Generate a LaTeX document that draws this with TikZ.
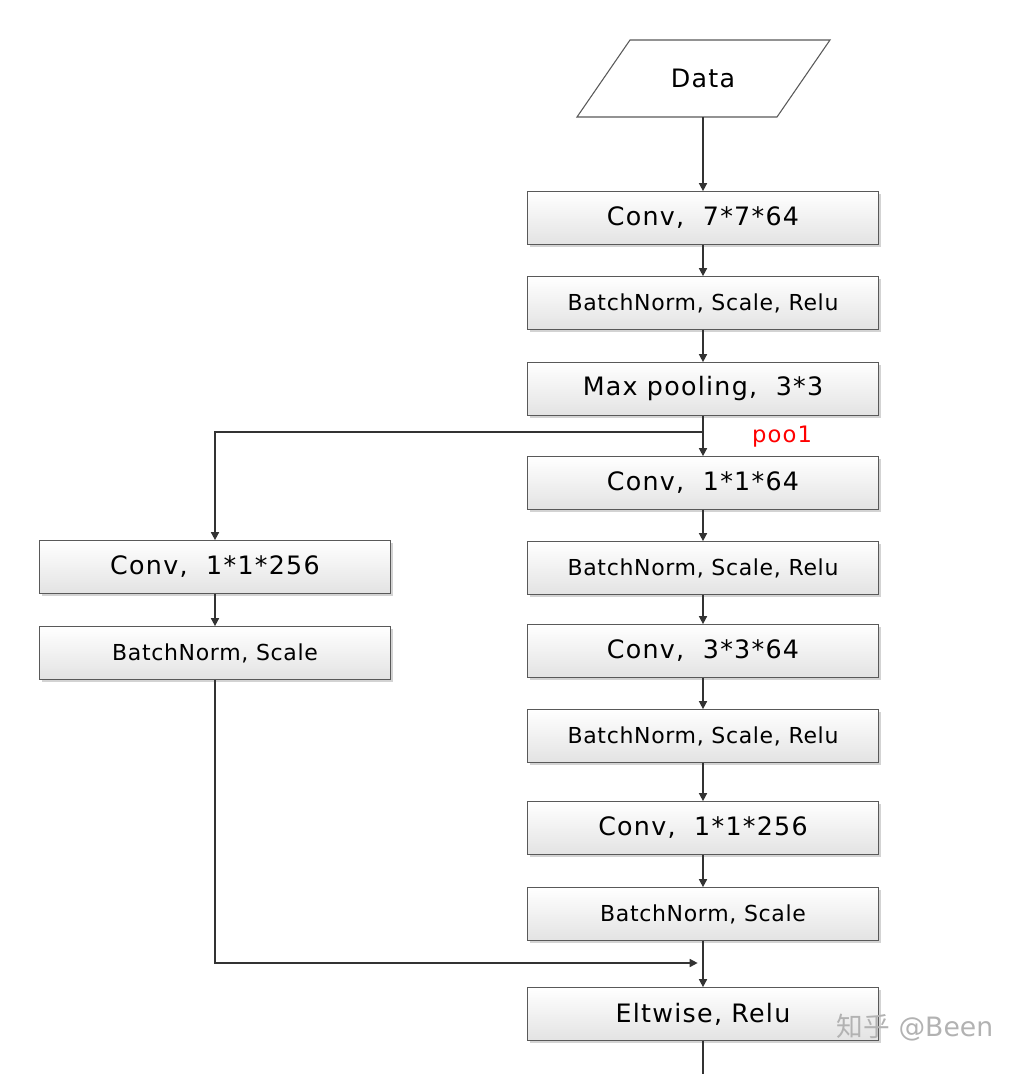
\documentclass[tikz,border=0pt]{standalone}
\usepackage{fontspec}
\setmainfont{DejaVu Sans}
\newfontfamily\cjk{Noto Sans CJK SC}
\usetikzlibrary{shapes.geometric,shadows,arrows.meta}
\begin{document}
\begin{tikzpicture}[x=0.75pt,y=-0.75pt,
  box/.style={draw=gray!70!black,line width=0.8pt,minimum width=263pt,minimum height=39.5pt,
    top color=white,bottom color=gray!22,drop shadow={shadow xshift=2pt,shadow yshift=-2pt,opacity=0.35},
    inner sep=0pt,font=\fontsize{19}{21}\selectfont\addfontfeatures{LetterSpace=5}},
  small/.style={font=\fontsize{16.5}{18}\selectfont\addfontfeatures{LetterSpace=3}},
  ln/.style={draw=gray!40!black,line width=1.2pt},
  arr/.style={ln,-{Triangle[length=6pt,width=6pt]}}]
\useasboundingbox (0,0) rectangle (1032,1074);
\draw[draw=gray!70!black,line width=0.8pt,fill=white] (630,40) -- (830,40) -- (777,117) -- (577,117) -- cycle;
\node[minimum height=57.75pt,inner sep=0pt,font=\fontsize{19}{21}\selectfont\addfontfeatures{LetterSpace=5}] (data) at (703,78.5) {Data};
\node[box] (c1) at (703,218) {Conv,\ \ 7*7*64};
\node[box,small] (b1) at (703,303) {BatchNorm, Scale, Relu};
\node[box] (mp) at (703,389) {Max pooling,\ \ 3*3};
\node[box] (c2) at (703,483) {Conv,\ \ 1*1*64};
\node[box,small] (b2) at (703,568) {BatchNorm, Scale, Relu};
\node[box] (c3) at (703,651) {Conv,\ \ 3*3*64};
\node[box,small] (b3) at (703,736) {BatchNorm, Scale, Relu};
\node[box] (c4) at (703,828) {Conv,\ \ 1*1*256};
\node[box,small] (b4) at (703,914) {BatchNorm, Scale};
\node[box] (el) at (703,1014) {Eltwise, Relu};
\node[box] (lc) at (215,567) {Conv,\ \ 1*1*256};
\node[box,small] (lb) at (215,653) {BatchNorm, Scale};
\node[text=red,font=\fontsize{17}{19}\selectfont\addfontfeatures{LetterSpace=5}] (p1) at (782,437) {poo1};
\node[text=gray!60,font=\fontsize{20}{22}\selectfont] (wm) at (915,1028) {{\cjk 知乎} @Been};
\coordinate (sp) at (703,432);
\coordinate (lt) at (215,432);
\coordinate (lbot) at (215,963);
\coordinate (mj) at (703,963);
\coordinate (end) at (703,1074);
\draw[arr] (data) -- (c1);
\draw[arr] (c1) -- (b1);
\draw[arr] (b1) -- (mp);
\draw[arr] (mp) -- (c2);
\draw[arr] (c2) -- (b2);
\draw[arr] (b2) -- (c3);
\draw[arr] (c3) -- (b3);
\draw[arr] (b3) -- (c4);
\draw[arr] (c4) -- (b4);
\draw[arr] (b4) -- (el);
\draw[ln] (el) -- (end);
\draw[arr] (sp) -- (lt) -- (lc);
\draw[arr] (lc) -- (lb);
\draw[arr] (lb) -- (lbot) -- ([xshift=-4pt]mj);
\end{tikzpicture}
\end{document}
